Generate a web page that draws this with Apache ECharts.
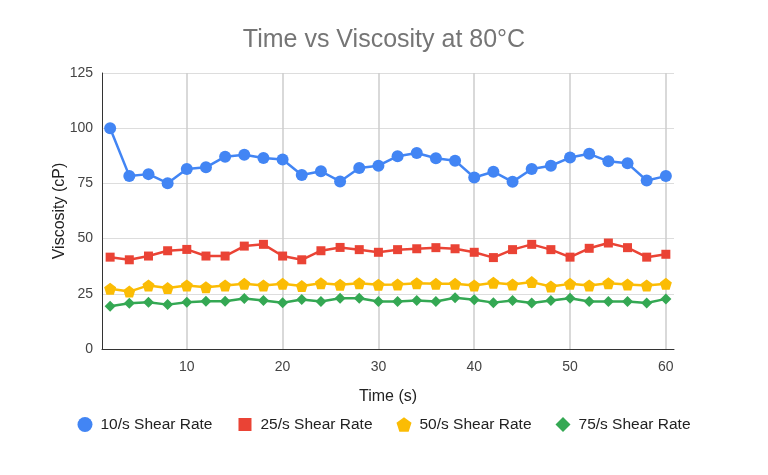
<!DOCTYPE html>
<html>
<head>
<meta charset="utf-8">
<script src="https://cdn.jsdelivr.net/npm/echarts@6/dist/echarts.min.js"></script>
<style>html,body{margin:0;padding:0;background:#fff}#c{width:768px;height:475px}</style>
</head>
<body>
<div id="c"></div>
<script>
const timeValues = [2,4,6,8,10,12,14,16,18,20,22,24,26,28,30,32,34,36,38,40,42,44,46,48,50,52,54,56,58,60];
const shear10 = [100,78.4,79.2,75.1,81.5,82.3,87.1,88,86.5,85.8,78.8,80.5,75.9,82,83,87.3,88.8,86.4,85.3,77.7,80.3,75.7,81.5,83,86.7,88.4,85,84.1,76.3,78.3];
const shear25 = [41.6,40.4,42.1,44.5,45.1,42.1,42.1,46.6,47.4,42.1,40.4,44.5,46,45,43.8,45,45.4,45.9,45.4,43.8,41.4,45,47.4,45,41.6,45.6,48,45.9,41.6,42.9];
const shear50 = [27.3,26,28.8,27.6,28.8,28,28.8,29.5,28.8,29.5,28.5,29.8,29.1,29.8,29.1,29.2,29.8,29.5,29.5,28.8,30,29.2,30.3,28.3,29.5,28.8,29.8,29.2,28.8,29.5];
const shear75 = [19.4,20.7,21.2,20.1,21.2,21.6,21.6,22.9,22,20.9,22.4,21.5,23,23,21.5,21.5,22,21.5,23.2,22.3,21,22,20.8,22,23,21.5,21.5,21.5,20.8,22.7];
const xTickValues = [10,20,30,40,50,60];
const seriesNames = ['10/s Shear Rate','25/s Shear Rate','50/s Shear Rate','75/s Shear Rate'];

const pentagon = 'path://M50,0 L97.6,34.5 L79.4,90.5 L20.6,90.5 L2.4,34.5 Z';
const colors = ['#4285F4','#EA4335','#FBBC04','#34A853'];
const symbols = ['circle','rect',pentagon,'diamond'];
const sizes = [12,9,12,11];
const legendIcons = ['circle','rect',pentagon,'diamond'];
const allData = [shear10, shear25, shear50, shear75];

const font = 'Liberation Sans, Arial, sans-serif';
const chart = echarts.init(document.getElementById('c'), null, {renderer:'canvas'});
chart.setOption({
  animation:false,
  backgroundColor:'#fff',
  title:{text:'Time vs Viscosity at 80°C', left:'center', top:23,
    textStyle:{fontFamily:font, fontSize:25, fontWeight:'normal', color:'#757575'}},
  legend:{
    bottom:37, left:'center', itemGap:24, itemWidth:15, itemHeight:15,
    textStyle:{fontFamily:font, fontSize:15.5, color:'#222', padding:[0,0,0,3]},
    data: seriesNames.map((n,i)=>({name:n, icon:legendIcons[i],
      itemStyle: i===1 ? {borderColor:'#fff', borderWidth:2} : undefined}))
  },
  grid:{left:102, right:94, top:73, bottom:126, containLabel:false},
  xAxis:{
    type:'value', min:1.15, max:60.85,
    name:'Time (s)', nameLocation:'middle', nameGap:40, nameMoveOverlap:false,
    nameTextStyle:{fontFamily:font, fontSize:16, color:'#222'},
    axisLine:{show:true, onZero:false, lineStyle:{color:'#333', width:1}},
    axisTick:{show:false, customValues:xTickValues},
    axisLabel:{customValues:xTickValues, fontFamily:font, fontSize:14, color:'#444', margin:11},
    splitLine:{show:true, lineStyle:{color:'#ccc', width:1.5}}
  },
  yAxis:{
    type:'value', min:0, max:125, interval:25,
    name:'Viscosity (cP)', nameLocation:'middle', nameGap:34, nameMoveOverlap:false,
    nameTextStyle:{fontFamily:font, fontSize:16, color:'#222'},
    axisLine:{show:true, lineStyle:{color:'#333', width:1}},
    axisTick:{show:false},
    axisLabel:{fontFamily:font, fontSize:14, color:'#444', margin:9},
    splitLine:{show:true, lineStyle:{color:'#ddd', width:1}}
  },
  series: allData.map((d,i)=>({
    name:seriesNames[i], type:'line',
    data: timeValues.map((t,j)=>[t, d[j]]),
    symbol:symbols[i], symbolSize:sizes[i], showSymbol:true,
    itemStyle:{color:colors[i]},
    lineStyle:{color:colors[i], width:2.5},
    z: 10-i
  }))
});
</script>
</body>
</html>
